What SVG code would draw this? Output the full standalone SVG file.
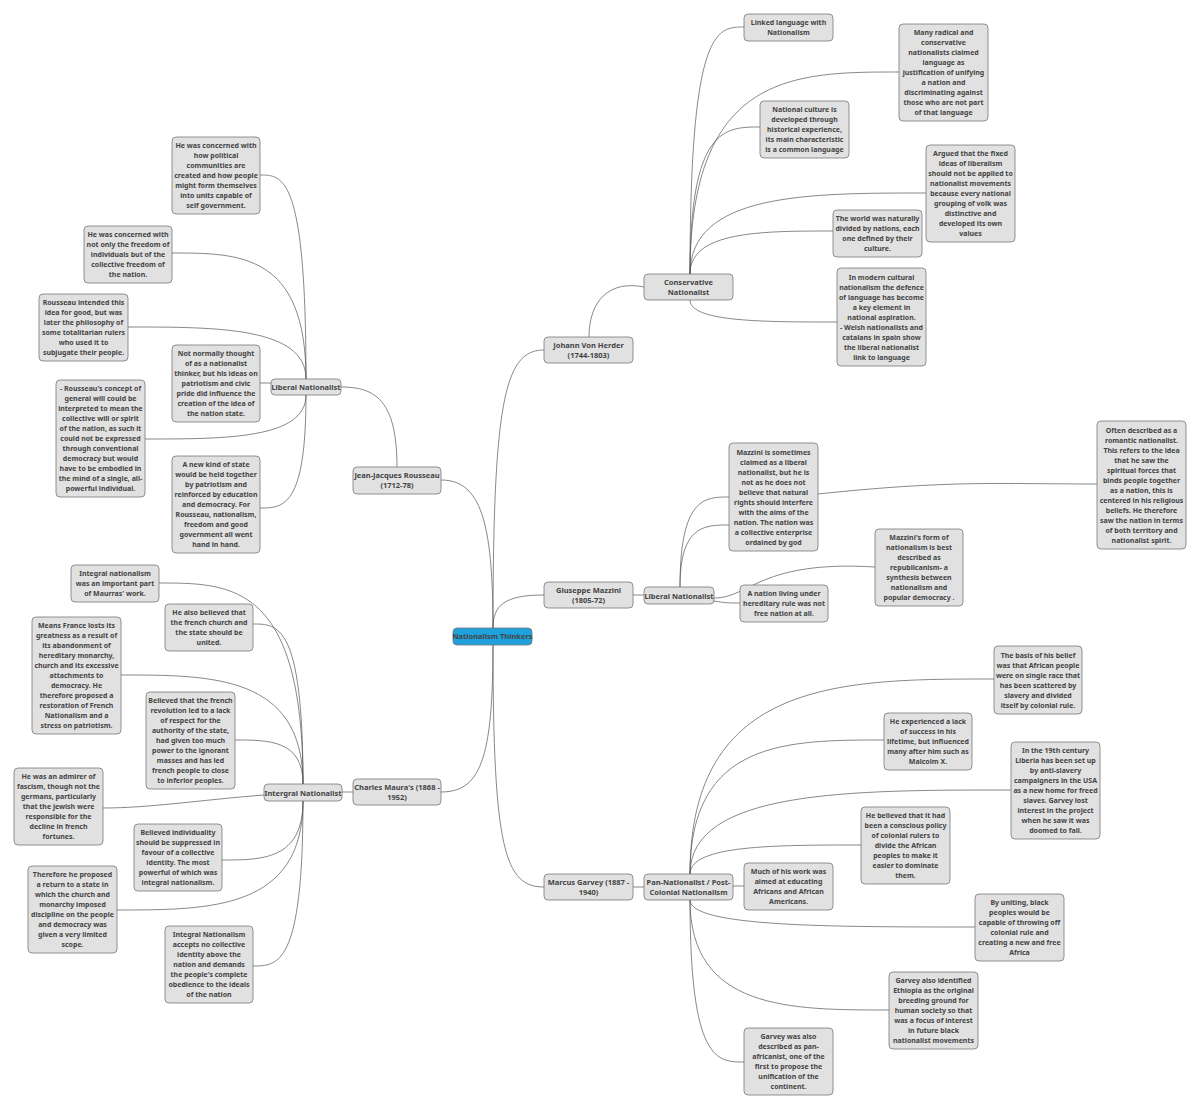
<svg xmlns="http://www.w3.org/2000/svg" width="1200" height="1110" viewBox="0 0 1200 1110">
<style>
.b{fill:#e1e1e1;stroke:#777;stroke-width:0.8}
.r{fill:#1ea1dc;stroke:#777;stroke-width:0.8}
text{font-family:"Noto Sans","Open Sans",sans-serif;font-weight:bold;font-size:7px;fill:#444;text-anchor:middle}
.m{font-size:7.5px}
#c path{fill:none;stroke:#555;stroke-width:0.7}
</style>
<rect width="1200" height="1110" fill="#fff"/>
<g id="c">
<path d="M493,628 C493,400 505,350 544,350"/>
<path d="M493,628 C493,605 505,595 544,595"/>
<path d="M493,645 C493,850 505,887 544,887"/>
<path d="M493,628 C493,520 480,480 441,480"/>
<path d="M493,645 C493,760 480,792 441,792"/>
<path d="M589,337 C589,300 610,280 644,287"/>
<path d="M397,467 C397,400 375,387 341,387"/>
<path d="M633,595 L644,595"/>
<path d="M353,792 L342,792"/>
<path d="M633,887 L644,887"/>
<path d="M690,274 C690,27 717,27 744,27"/>
<path d="M690,274 C690,72 795,72 899,72"/>
<path d="M690,274 C690,127 725,127 760,127"/>
<path d="M690,274 C690,193 808,193 926,193"/>
<path d="M690,274 C690,231 762,231 833,231"/>
<path d="M690,300 C690,322 764,322 837,322"/>
<path d="M306,379 C306,175 283,175 260,175"/>
<path d="M306,379 C306,253 239,253 172,253"/>
<path d="M306,379 C306,327 217,327 128,327"/>
<path d="M271,383 L260,383"/>
<path d="M306,395 C306,439 225,439 145,439"/>
<path d="M306,395 C306,508 283,508 260,508"/>
<path d="M680,587 C680,497 705,497 729,497"/>
<path d="M680,587 C680,525 705,525 729,525"/>
<path d="M818,494 C950,480 1000,484 1097,484"/>
<path d="M714,598 C750,598 760,560 875,567"/>
<path d="M714,601 C725,603 730,603 740,603"/>
<path d="M303,784 C303,583 231,583 159,583"/>
<path d="M303,784 C303,624 278,624 253,624"/>
<path d="M303,784 C303,675 212,675 121,675"/>
<path d="M303,784 C303,740 269,740 235,740"/>
<path d="M264,795 C200,800 150,808 103,808"/>
<path d="M303,801 C303,860 262,860 222,860"/>
<path d="M303,801 C303,910 210,910 117,910"/>
<path d="M303,801 C303,966 278,966 253,966"/>
<path d="M690,874 C690,679 842,679 994,679"/>
<path d="M690,874 C690,740 787,740 884,740"/>
<path d="M690,874 C690,790 850,790 1011,790"/>
<path d="M690,874 C690,845 775,845 861,845"/>
<path d="M733,886 L744,886"/>
<path d="M690,900 C690,927 832,927 975,927"/>
<path d="M690,900 C690,1010 790,1010 889,1010"/>
<path d="M690,900 C690,1062 717,1062 744,1062"/>
</g>
<g id="root"><rect class="r" x="453" y="628" width="79" height="17" rx="4"/><text class="m" x="492.5" y="639">Nationalism Thinkers</text></g>
<g id="herder"><rect class="b" x="544" y="337" width="89" height="26" rx="4"/><text class="m" x="588.5" y="347.5"><tspan x="588.5">Johann Von Herder</tspan><tspan x="588.5" dy="10">(1744-1803)</tspan></text></g>
<g id="rousseau"><rect class="b" x="353" y="467" width="88" height="27" rx="4"/><text class="m" x="397" y="478"><tspan x="397">Jean-Jacques Rousseau</tspan><tspan x="397" dy="10">(1712-78)</tspan></text></g>
<g id="mazzini"><rect class="b" x="544" y="582" width="89" height="26" rx="4"/><text class="m" x="588.5" y="592.5"><tspan x="588.5">Giuseppe Mazzini</tspan><tspan x="588.5" dy="10">(1805-72)</tspan></text></g>
<g id="maura"><rect class="b" x="353" y="779" width="88" height="26" rx="4"/><text class="m" x="397" y="789.5"><tspan x="397">Charles Maura's (1868 -</tspan><tspan x="397" dy="10">1952)</tspan></text></g>
<g id="garvey"><rect class="b" x="544" y="874" width="89" height="26" rx="4"/><text class="m" x="588.5" y="884.5"><tspan x="588.5">Marcus Garvey (1887 -</tspan><tspan x="588.5" dy="10">1940)</tspan></text></g>
<g id="cons"><rect class="b" x="644" y="274" width="89" height="26" rx="4"/><text class="m" x="688.5" y="284.5"><tspan x="688.5">Conservative</tspan><tspan x="688.5" dy="10">Nationalist</tspan></text></g>
<g id="libR"><rect class="b" x="271" y="379" width="70" height="16" rx="4"/><text class="m" x="306" y="390">Liberal Nationalist</text></g>
<g id="libM"><rect class="b" x="644" y="587" width="70" height="17" rx="4"/><text class="m" x="679" y="598.5">Liberal Nationalist</text></g>
<g id="integ"><rect class="b" x="264" y="784" width="78" height="17" rx="4"/><text class="m" x="303" y="795.5">Intergral Nationalist</text></g>
<g id="pan"><rect class="b" x="644" y="874" width="89" height="26" rx="4"/><text class="m" x="688.5" y="884.5"><tspan x="688.5">Pan-Nationalist / Post-</tspan><tspan x="688.5" dy="10">Colonial Nationalism</tspan></text></g>

<g id="c1"><rect class="b" x="744" y="14" width="89" height="27" rx="4"/><text y="25"><tspan x="788.5">Linked language with</tspan><tspan x="788.5" dy="10">Nationalism</tspan></text></g>
<g id="c2"><rect class="b" x="899" y="24" width="89" height="97" rx="4"/><text y="35"><tspan x="943.5">Many radical and</tspan><tspan x="943.5" dy="10">conservative</tspan><tspan x="943.5" dy="10">nationalists claimed</tspan><tspan x="943.5" dy="10">language as</tspan><tspan x="943.5" dy="10">justification of unifying</tspan><tspan x="943.5" dy="10">a nation and</tspan><tspan x="943.5" dy="10">discriminating against</tspan><tspan x="943.5" dy="10">those who are not part</tspan><tspan x="943.5" dy="10">of that language</tspan></text></g>
<g id="c3"><rect class="b" x="760" y="101" width="89" height="57" rx="4"/><text y="112"><tspan x="804.5">National culture is</tspan><tspan x="804.5" dy="10">developed through</tspan><tspan x="804.5" dy="10">historical experience,</tspan><tspan x="804.5" dy="10">its main characteristic</tspan><tspan x="804.5" dy="10">is a common language</tspan></text></g>
<g id="c4"><rect class="b" x="926" y="145" width="89" height="97" rx="4"/><text y="156"><tspan x="970.5">Argued that the fixed</tspan><tspan x="970.5" dy="10">ideas of liberalism</tspan><tspan x="970.5" dy="10">should not be applied to</tspan><tspan x="970.5" dy="10">nationalist movements</tspan><tspan x="970.5" dy="10">because every national</tspan><tspan x="970.5" dy="10">grouping of volk was</tspan><tspan x="970.5" dy="10">distinctive and</tspan><tspan x="970.5" dy="10">developed its own</tspan><tspan x="970.5" dy="10">values</tspan></text></g>
<g id="c5"><rect class="b" x="833" y="210" width="89" height="47" rx="4"/><text y="221"><tspan x="877.5">The world was naturally</tspan><tspan x="877.5" dy="10">divided by nations, each</tspan><tspan x="877.5" dy="10">one defined by their</tspan><tspan x="877.5" dy="10">culture.</tspan></text></g>
<g id="c6"><rect class="b" x="837" y="268" width="89" height="98" rx="4"/><text y="279.5"><tspan x="881.5">In modern cultural</tspan><tspan x="881.5" dy="10">nationalism the defence</tspan><tspan x="881.5" dy="10">of language has become</tspan><tspan x="881.5" dy="10">a key element in</tspan><tspan x="881.5" dy="10">national aspiration.</tspan><tspan x="881.5" dy="10">- Welsh nationalists and</tspan><tspan x="881.5" dy="10">catalans in spain show</tspan><tspan x="881.5" dy="10">the liberal nationalist</tspan><tspan x="881.5" dy="10">link to language</tspan></text></g>

<g id="r1"><rect class="b" x="172" y="137" width="88" height="77" rx="4"/><text y="148"><tspan x="216">He was concerned with</tspan><tspan x="216" dy="10">how political</tspan><tspan x="216" dy="10">communities are</tspan><tspan x="216" dy="10">created and how people</tspan><tspan x="216" dy="10">might form themselves</tspan><tspan x="216" dy="10">into units capable of</tspan><tspan x="216" dy="10">self government.</tspan></text></g>
<g id="r2"><rect class="b" x="84" y="226" width="88" height="57" rx="4"/><text y="237"><tspan x="128">He was concerned with</tspan><tspan x="128" dy="10">not only the freedom of</tspan><tspan x="128" dy="10">individuals but of the</tspan><tspan x="128" dy="10">collective freedom of</tspan><tspan x="128" dy="10">the nation.</tspan></text></g>
<g id="r3"><rect class="b" x="39" y="294" width="89" height="67" rx="4"/><text y="305"><tspan x="83.5">Rousseau intended this</tspan><tspan x="83.5" dy="10">idea for good, but was</tspan><tspan x="83.5" dy="10">later the philosophy of</tspan><tspan x="83.5" dy="10">some totalitarian rulers</tspan><tspan x="83.5" dy="10">who used it to</tspan><tspan x="83.5" dy="10">subjugate their people.</tspan></text></g>
<g id="r4"><rect class="b" x="172" y="345" width="88" height="77" rx="4"/><text y="356"><tspan x="216">Not normally thought</tspan><tspan x="216" dy="10">of as a nationalist</tspan><tspan x="216" dy="10">thinker, but his ideas on</tspan><tspan x="216" dy="10">patriotism and civic</tspan><tspan x="216" dy="10">pride did influence the</tspan><tspan x="216" dy="10">creation of the idea of</tspan><tspan x="216" dy="10">the nation state.</tspan></text></g>
<g id="r5"><rect class="b" x="56" y="380" width="89" height="117" rx="4"/><text y="391"><tspan x="100.5">- Rousseau's concept of</tspan><tspan x="100.5" dy="10">general will could be</tspan><tspan x="100.5" dy="10">interpreted to mean the</tspan><tspan x="100.5" dy="10">collective will or spirit</tspan><tspan x="100.5" dy="10">of the nation, as such it</tspan><tspan x="100.5" dy="10">could not be expressed</tspan><tspan x="100.5" dy="10">through conventional</tspan><tspan x="100.5" dy="10">democracy but would</tspan><tspan x="100.5" dy="10">have to be embodied in</tspan><tspan x="100.5" dy="10">the mind of a single, all-</tspan><tspan x="100.5" dy="10">powerful individual.</tspan></text></g>
<g id="r6"><rect class="b" x="172" y="456" width="88" height="97" rx="4"/><text y="467"><tspan x="216">A new kind of state</tspan><tspan x="216" dy="10">would be held together</tspan><tspan x="216" dy="10">by patriotism and</tspan><tspan x="216" dy="10">reinforced by education</tspan><tspan x="216" dy="10">and democracy. For</tspan><tspan x="216" dy="10">Rousseau, nationalism,</tspan><tspan x="216" dy="10">freedom and good</tspan><tspan x="216" dy="10">government all went</tspan><tspan x="216" dy="10">hand in hand.</tspan></text></g>

<g id="m1"><rect class="b" x="729" y="443" width="89" height="108" rx="4"/><text y="454.5"><tspan x="773.5">Mazzini is sometimes</tspan><tspan x="773.5" dy="10">claimed as a liberal</tspan><tspan x="773.5" dy="10">nationalist, but he is</tspan><tspan x="773.5" dy="10">not as he does not</tspan><tspan x="773.5" dy="10">believe that natural</tspan><tspan x="773.5" dy="10">rights should interfere</tspan><tspan x="773.5" dy="10">with the aims of the</tspan><tspan x="773.5" dy="10">nation. The nation was</tspan><tspan x="773.5" dy="10">a collective enterprise</tspan><tspan x="773.5" dy="10">ordained by god</tspan></text></g>
<g id="m2"><rect class="b" x="1097" y="421" width="89" height="128" rx="4"/><text y="432.5"><tspan x="1141.5">Often described as a</tspan><tspan x="1141.5" dy="10">romantic nationalist.</tspan><tspan x="1141.5" dy="10">This refers to the idea</tspan><tspan x="1141.5" dy="10">that he saw the</tspan><tspan x="1141.5" dy="10">spiritual forces that</tspan><tspan x="1141.5" dy="10">binds people together</tspan><tspan x="1141.5" dy="10">as a nation, this is</tspan><tspan x="1141.5" dy="10">centered in his religious</tspan><tspan x="1141.5" dy="10">beliefs. He therefore</tspan><tspan x="1141.5" dy="10">saw the nation in terms</tspan><tspan x="1141.5" dy="10">of both territory and</tspan><tspan x="1141.5" dy="10">nationalist spirit.</tspan></text></g>
<g id="m3"><rect class="b" x="875" y="529" width="88" height="77" rx="4"/><text y="540"><tspan x="919">Mazzini's form of</tspan><tspan x="919" dy="10">nationalism is best</tspan><tspan x="919" dy="10">described as</tspan><tspan x="919" dy="10">republicanism- a</tspan><tspan x="919" dy="10">synthesis between</tspan><tspan x="919" dy="10">nationalism and</tspan><tspan x="919" dy="10">popular democracy .</tspan></text></g>
<g id="m4"><rect class="b" x="740" y="585" width="88" height="37" rx="4"/><text y="596"><tspan x="784">A nation living under</tspan><tspan x="784" dy="10">hereditary rule was not</tspan><tspan x="784" dy="10">free nation at all.</tspan></text></g>

<g id="i1"><rect class="b" x="71" y="565" width="88" height="37" rx="4"/><text y="576"><tspan x="115">Integral nationalism</tspan><tspan x="115" dy="10">was an important part</tspan><tspan x="115" dy="10">of Maurras' work.</tspan></text></g>
<g id="i2"><rect class="b" x="165" y="604" width="88" height="47" rx="4"/><text y="615"><tspan x="209">He also believed that</tspan><tspan x="209" dy="10">the french church and</tspan><tspan x="209" dy="10">the state should be</tspan><tspan x="209" dy="10">united.</tspan></text></g>
<g id="i3"><rect class="b" x="32" y="617" width="89" height="117" rx="4"/><text y="628"><tspan x="76.5">Means France losts its</tspan><tspan x="76.5" dy="10">greatness as a result of</tspan><tspan x="76.5" dy="10">its abandonment of</tspan><tspan x="76.5" dy="10">hereditary monarchy,</tspan><tspan x="76.5" dy="10">church and its excessive</tspan><tspan x="76.5" dy="10">attachments to</tspan><tspan x="76.5" dy="10">democracy. He</tspan><tspan x="76.5" dy="10">therefore proposed a</tspan><tspan x="76.5" dy="10">restoration of French</tspan><tspan x="76.5" dy="10">Nationalism and a</tspan><tspan x="76.5" dy="10">stress on patriotism.</tspan></text></g>
<g id="i4"><rect class="b" x="146" y="692" width="89" height="97" rx="4"/><text y="703"><tspan x="190.5">Believed that the french</tspan><tspan x="190.5" dy="10">revolution led to a lack</tspan><tspan x="190.5" dy="10">of respect for the</tspan><tspan x="190.5" dy="10">authority of the state,</tspan><tspan x="190.5" dy="10">had given too much</tspan><tspan x="190.5" dy="10">power to the ignorant</tspan><tspan x="190.5" dy="10">masses and has led</tspan><tspan x="190.5" dy="10">french people to close</tspan><tspan x="190.5" dy="10">to inferior peoples.</tspan></text></g>
<g id="i5"><rect class="b" x="14" y="768" width="89" height="77" rx="4"/><text y="779"><tspan x="58.5">He was an admirer of</tspan><tspan x="58.5" dy="10">fascism, though not the</tspan><tspan x="58.5" dy="10">germans, particularly</tspan><tspan x="58.5" dy="10">that the jewish were</tspan><tspan x="58.5" dy="10">responsible for the</tspan><tspan x="58.5" dy="10">decline in french</tspan><tspan x="58.5" dy="10">fortunes.</tspan></text></g>
<g id="i6"><rect class="b" x="134" y="824" width="88" height="67" rx="4"/><text y="835"><tspan x="178">Believed individuality</tspan><tspan x="178" dy="10">should be suppressed in</tspan><tspan x="178" dy="10">favour of a collective</tspan><tspan x="178" dy="10">identity. The most</tspan><tspan x="178" dy="10">powerful of which was</tspan><tspan x="178" dy="10">integral nationalism.</tspan></text></g>
<g id="i7"><rect class="b" x="28" y="866" width="89" height="87" rx="4"/><text y="877"><tspan x="72.5">Therefore he proposed</tspan><tspan x="72.5" dy="10">a return to a state in</tspan><tspan x="72.5" dy="10">which the church and</tspan><tspan x="72.5" dy="10">monarchy imposed</tspan><tspan x="72.5" dy="10">discipline on the people</tspan><tspan x="72.5" dy="10">and democracy was</tspan><tspan x="72.5" dy="10">given a very limited</tspan><tspan x="72.5" dy="10">scope.</tspan></text></g>
<g id="i8"><rect class="b" x="165" y="926" width="88" height="77" rx="4"/><text y="937"><tspan x="209">Integral Nationalism</tspan><tspan x="209" dy="10">accepts no collective</tspan><tspan x="209" dy="10">identity above the</tspan><tspan x="209" dy="10">nation and demands</tspan><tspan x="209" dy="10">the people's complete</tspan><tspan x="209" dy="10">obedience to the ideals</tspan><tspan x="209" dy="10">of the nation</tspan></text></g>

<g id="g1"><rect class="b" x="994" y="646" width="88" height="68" rx="4"/><text y="657.5"><tspan x="1038">The basis of his belief</tspan><tspan x="1038" dy="10">was that African people</tspan><tspan x="1038" dy="10">were on single race that</tspan><tspan x="1038" dy="10">has been scattered by</tspan><tspan x="1038" dy="10">slavery and divided</tspan><tspan x="1038" dy="10">itself by colonial rule.</tspan></text></g>
<g id="g2"><rect class="b" x="884" y="713" width="88" height="57" rx="4"/><text y="724"><tspan x="928">He experienced a lack</tspan><tspan x="928" dy="10">of success in his</tspan><tspan x="928" dy="10">lifetime, but influenced</tspan><tspan x="928" dy="10">many after him such as</tspan><tspan x="928" dy="10">Malcolm X.</tspan></text></g>
<g id="g3"><rect class="b" x="1011" y="742" width="89" height="97" rx="4"/><text y="753"><tspan x="1055.5">In the 19th century</tspan><tspan x="1055.5" dy="10">Liberia has been set up</tspan><tspan x="1055.5" dy="10">by anti-slavery</tspan><tspan x="1055.5" dy="10">campaigners in the USA</tspan><tspan x="1055.5" dy="10">as a new home for freed</tspan><tspan x="1055.5" dy="10">slaves. Garvey lost</tspan><tspan x="1055.5" dy="10">interest in the project</tspan><tspan x="1055.5" dy="10">when he saw it was</tspan><tspan x="1055.5" dy="10">doomed to fail.</tspan></text></g>
<g id="g4"><rect class="b" x="861" y="807" width="89" height="77" rx="4"/><text y="818"><tspan x="905.5">He believed that it had</tspan><tspan x="905.5" dy="10">been a conscious policy</tspan><tspan x="905.5" dy="10">of colonial rulers to</tspan><tspan x="905.5" dy="10">divide the African</tspan><tspan x="905.5" dy="10">peoples to make it</tspan><tspan x="905.5" dy="10">easier to dominate</tspan><tspan x="905.5" dy="10">them.</tspan></text></g>
<g id="g5"><rect class="b" x="744" y="863" width="89" height="47" rx="4"/><text y="874"><tspan x="788.5">Much of his work was</tspan><tspan x="788.5" dy="10">aimed at educating</tspan><tspan x="788.5" dy="10">Africans and African</tspan><tspan x="788.5" dy="10">Americans.</tspan></text></g>
<g id="g6"><rect class="b" x="975" y="894" width="89" height="67" rx="4"/><text y="905"><tspan x="1019.5">By uniting, black</tspan><tspan x="1019.5" dy="10">peoples would be</tspan><tspan x="1019.5" dy="10">capable of throwing off</tspan><tspan x="1019.5" dy="10">colonial rule and</tspan><tspan x="1019.5" dy="10">creating a new and free</tspan><tspan x="1019.5" dy="10">Africa</tspan></text></g>
<g id="g7"><rect class="b" x="889" y="972" width="89" height="77" rx="4"/><text y="983"><tspan x="933.5">Garvey also identified</tspan><tspan x="933.5" dy="10">Ethiopia as the original</tspan><tspan x="933.5" dy="10">breeding ground for</tspan><tspan x="933.5" dy="10">human society so that</tspan><tspan x="933.5" dy="10">was a focus of interest</tspan><tspan x="933.5" dy="10">in future black</tspan><tspan x="933.5" dy="10">nationalist movements</tspan></text></g>
<g id="g8"><rect class="b" x="744" y="1028" width="89" height="67" rx="4"/><text y="1039"><tspan x="788.5">Garvey was also</tspan><tspan x="788.5" dy="10">described as pan-</tspan><tspan x="788.5" dy="10">africanist, one of the</tspan><tspan x="788.5" dy="10">first to propose the</tspan><tspan x="788.5" dy="10">unification of the</tspan><tspan x="788.5" dy="10">continent.</tspan></text></g>
</svg>
